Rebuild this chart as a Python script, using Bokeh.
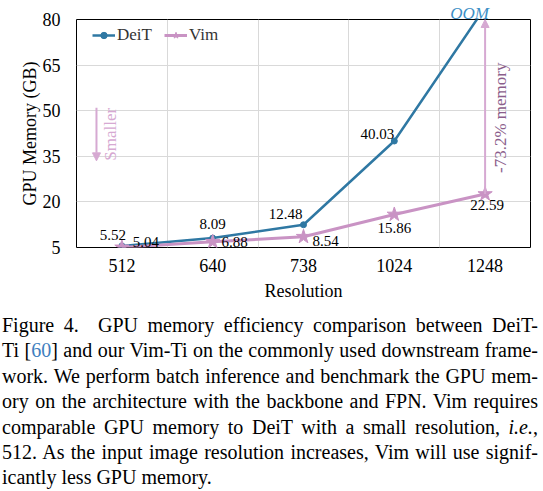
import math

from bokeh.embed import file_html
from bokeh.layouts import column
from bokeh.models import (Arrow, Div, FixedTicker, Label, Legend, LegendItem,
                          LinearAxis, NormalHead, Range1d)
from bokeh.plotting import figure
from bokeh.resources import INLINE

# data
resolutions = ["512", "640", "738", "1024", "1248"]
deit_mem = [5.52, 8.09, 12.48, 40.03]
deit_oom = 84.0          # DeiT runs out of memory at 1248, line leaves the top
vim_mem = [5.04, 6.88, 8.54, 15.86, 22.59]
y_ticks = [5, 20, 35, 50, 65, 80]
reduction_text = "-73.2% memory"

caption_lines = [
    "Figure 4.&nbsp; GPU memory efficiency comparison between DeiT-",
    "Ti [<span style='color:#3f7fc0'>60</span>] and our Vim-Ti on the commonly used downstream frame-",
    "work. We perform batch inference and benchmark the GPU mem-",
    "ory on the architecture with the backbone and FPN. Vim requires",
    "comparable GPU memory to DeiT with a small resolution, <i>i.e.</i>,",
    "512. As the input image resolution increases, Vim will use signif-",
    "icantly less GPU memory.",
]

FONT = "Liberation Serif"
BLUE = "#2f78a3"
PINK = "#c993c4"
LIGHT_PINK = "#d6a9d2"

# categories sit in the middle of equal slots, grid lines on slot borders
xs = [i + 0.5 for i in range(len(resolutions))]

p = figure(width=543, height=313, x_range=Range1d(0, len(resolutions)),
           y_range=Range1d(y_ticks[0], y_ticks[-1]),
           output_backend="svg", toolbar_location=None,
           min_border_left=76, min_border_right=13, min_border_top=18,
           min_border_bottom=66)

p.outline_line_color = "black"
p.outline_line_width = 1

# grids
p.xgrid.ticker = FixedTicker(ticks=list(range(1, len(resolutions))))
p.ygrid.ticker = FixedTicker(ticks=y_ticks)
for g in (p.xgrid, p.ygrid):
    g.grid_line_color = "#d9d9d9"
    g.grid_line_width = 1

# axes
p.xaxis.ticker = FixedTicker(ticks=xs)
p.xaxis.major_label_overrides = {x: r for x, r in zip(xs, resolutions)}
p.yaxis.ticker = FixedTicker(ticks=y_ticks)
p.xaxis.axis_label = "Resolution"
p.yaxis.axis_label = "GPU Memory (GB)"
for ax in (p.xaxis, p.yaxis):
    ax.axis_line_color = None
    ax.major_tick_line_color = None
    ax.minor_tick_line_color = None
    ax.major_tick_out = 0
    ax.major_tick_in = 0
    ax.minor_tick_out = 0
    ax.minor_tick_in = 0
    ax.major_label_text_font = FONT
    ax.major_label_text_font_size = "18px"
    ax.major_label_text_color = "black"
    ax.axis_label_text_font = FONT
    ax.axis_label_text_font_size = "18px"
    ax.axis_label_text_font_style = "normal"
    ax.axis_label_text_color = "black"
p.xaxis.major_label_standoff = 11
p.xaxis.axis_label_standoff = 6
p.yaxis.major_label_standoff = 16
p.yaxis.axis_label_standoff = 0

# "OOM" over the frame, where DeiT leaves the chart (an axis above, since
# annotations outside the frame get clipped)
oom_x = xs[-1] - 0.17
oom_axis = LinearAxis(ticker=FixedTicker(ticks=[oom_x]),
                      major_label_overrides={oom_x: "OOM"},
                      axis_line_color=None, major_tick_line_color=None,
                      minor_tick_line_color=None, major_tick_out=0, major_tick_in=0,
                      minor_tick_out=0, minor_tick_in=0, major_label_standoff=-3,
                      major_label_text_font=FONT, major_label_text_font_size="17px",
                      major_label_text_font_style="italic",
                      major_label_text_color="#3d8fc6")
p.add_layout(oom_axis, "above")

# series
deit_line = p.line(xs, deit_mem + [deit_oom], line_color=BLUE, line_width=2.5)
deit_dots = p.scatter(xs[:len(deit_mem)], deit_mem, marker="circle", size=6,
                      fill_color=BLUE, line_color=BLUE)
vim_line = p.line(xs, vim_mem, line_color=PINK, line_width=3)
vim_stars = p.scatter(xs, vim_mem, marker="star", size=15,
                      fill_color=PINK, line_color=PINK)

legend = Legend(items=[LegendItem(label="DeiT", renderers=[deit_line, deit_dots]),
                       LegendItem(label="Vim", renderers=[vim_line, vim_stars])],
                orientation="horizontal", location=(16, 202), margin=0, padding=0,
                spacing=12, glyph_width=23, glyph_height=16, label_height=16,
                label_standoff=2, border_line_color=None, background_fill_alpha=0,
                label_text_font=FONT, label_text_font_size="17px",
                label_text_color="#333333")
p.add_layout(legend)

# value labels (offsets in px from each point)
deit_offsets = [(-9, 11), (0, 14), (-18, 11), (-17, 7)]
vim_offsets = [(24, 5), (22, 0), (22, -4), (0, -14), (2, -11)]
for x, v, (dx, dy) in zip(xs, deit_mem, deit_offsets):
    p.add_layout(Label(x=x, y=v, x_offset=dx, y_offset=dy, text=f"{v:.2f}",
                       text_align="center", text_baseline="middle",
                       text_font=FONT, text_font_size="15px", text_color="black"))
for x, v, (dx, dy) in zip(xs, vim_mem, vim_offsets):
    p.add_layout(Label(x=x, y=v, x_offset=dx, y_offset=dy, text=f"{v:.2f}",
                       text_align="center", text_baseline="middle",
                       text_font=FONT, text_font_size="15px", text_color="black"))

# "-73.2% memory" arrow from Vim at 1248 up to the top
p.add_layout(Arrow(x_start=xs[-1], y_start=vim_mem[-1], x_end=xs[-1], y_end=y_ticks[-1],
                   line_color=LIGHT_PINK, line_width=2,
                   end=NormalHead(size=8, fill_color=LIGHT_PINK, line_color=LIGHT_PINK)))
p.add_layout(Label(x=xs[-1], y=(vim_mem[-1] + y_ticks[-1]) / 2, x_offset=15, y_offset=-11,
                   text=reduction_text, angle=math.pi / 2,
                   text_align="center", text_baseline="middle",
                   text_font=FONT, text_font_size="17px", text_color="#8b5e8b"))

# "Smaller" hint on the left
p.add_layout(Arrow(x_start=0.22, y_start=51, x_end=0.22, y_end=33.5,
                   line_color=LIGHT_PINK, line_width=2,
                   end=NormalHead(size=8, fill_color=LIGHT_PINK, line_color=LIGHT_PINK)))
p.add_layout(Label(x=0.22, y=42.25, x_offset=14, text="Smaller", angle=math.pi / 2,
                   text_align="center", text_baseline="middle",
                   text_font=FONT, text_font_size="17px", text_color=LIGHT_PINK))

# caption under the chart, one justified block per printed line
rows = "".join(
    f'<div style="text-align:justify;text-align-last:justify;height:25.4px;white-space:nowrap">{line}</div>'
    for line in caption_lines[:-1])
rows += f'<div style="height:20px;white-space:nowrap">{caption_lines[-1]}</div>'
caption = Div(text=(f'<div style="width:536px;font-family:\'{FONT}\';'
                    f'font-size:20px;line-height:25.4px;color:black">{rows}</div>'),
              width=536, margin=(0, 0, 0, 2))

layout = column(p, caption, spacing=0)

open("out.html", "w").write(file_html(layout, INLINE))
